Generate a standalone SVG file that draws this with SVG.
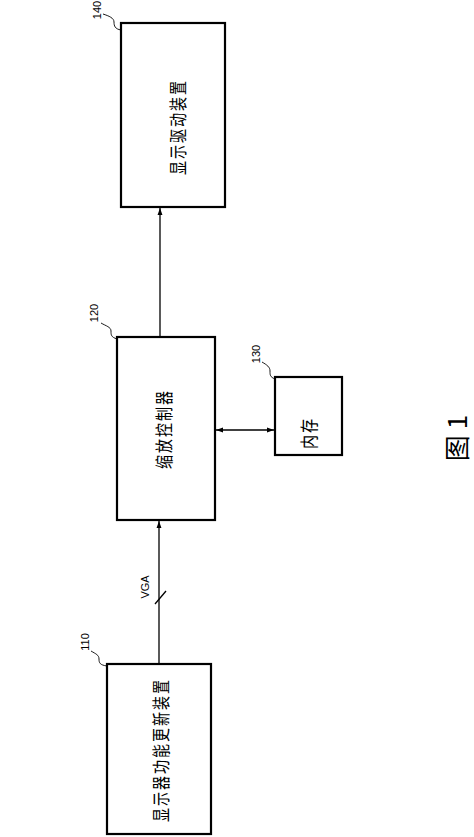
<svg xmlns="http://www.w3.org/2000/svg" width="474" height="837" viewBox="0 0 474 837">
<defs>
<style>
.box{fill:#fff;stroke:#000;stroke-width:2.2}
.cn{font-family:"Noto Sans CJK SC","Noto Sans CJK JP",sans-serif;font-size:14px;fill:#000}
.lbl{font-family:"Liberation Sans",Arial,sans-serif;font-size:11px;fill:#000}
.ln{stroke:#000;stroke-width:1.3;fill:none}
.ld{stroke:#000;stroke-width:0.9;fill:none}
</style>
<marker id="ah" viewBox="0 0 10 10" refX="10" refY="5" markerWidth="7" markerHeight="7" orient="auto-start-reverse" markerUnits="userSpaceOnUse">
<path d="M0,1.5 L10,5 L0,8.5 Z" fill="#000"/>
</marker>
</defs>
<rect width="474" height="837" fill="#fff"/>
<g id="connectors">
<line class="ln" x1="159" y1="664" x2="159" y2="521" marker-end="url(#ah)"/>
<line class="ln" x1="160" y1="337" x2="160" y2="208" marker-end="url(#ah)"/>
<line class="ln" x1="216" y1="430" x2="274" y2="430" marker-start="url(#ah)" marker-end="url(#ah)"/>
<line class="ln" x1="155" y1="604" x2="166" y2="591"/>
<text class="lbl" transform="translate(145,587) rotate(-90)" text-anchor="middle" dominant-baseline="central">VGA</text>
</g>
<g id="n110">
<rect class="box" x="107" y="664" width="104" height="170"/>
<text class="cn" transform="translate(160,750) rotate(-90) scale(1,1.3)" text-anchor="middle" dominant-baseline="central" letter-spacing="2">显示器功能更新装置</text>
<text class="lbl" transform="translate(85,642) rotate(-90)" text-anchor="middle" dominant-baseline="central">110</text>
<path class="ld" d="M91,651 C96,654 99,655 99,659 C99,663 100,665 107,666"/>
</g>
<g id="n120">
<rect class="box" x="117" y="337" width="98" height="183"/>
<text class="cn" transform="translate(163,429) rotate(-90) scale(1,1.3)" text-anchor="middle" dominant-baseline="central" letter-spacing="2">缩放控制器</text>
<text class="lbl" transform="translate(94,313) rotate(-90)" text-anchor="middle" dominant-baseline="central">120</text>
<path class="ld" d="M101,323 C106,326 111,327 111,331 C111,335 111,337 117,339"/>
</g>
<g id="n130">
<rect class="box" x="275" y="377" width="67" height="78"/>
<text class="cn" transform="translate(308,433) rotate(-90) scale(1,1.3)" text-anchor="middle" dominant-baseline="central" letter-spacing="2">内存</text>
<text class="lbl" transform="translate(256,354) rotate(-90)" text-anchor="middle" dominant-baseline="central">130</text>
<path class="ld" d="M262,362 C267,365 270,367 270,371 C270,375 270,377 275,379"/>
</g>
<g id="n140">
<rect class="box" x="121" y="23" width="104" height="184"/>
<text class="cn" transform="translate(177,127) rotate(-90) scale(1,1.3)" text-anchor="middle" dominant-baseline="central" letter-spacing="2">显示驱动装置</text>
<text class="lbl" transform="translate(97,10) rotate(-90)" text-anchor="middle" dominant-baseline="central">140</text>
<path class="ld" d="M103,14 C109,16 114,18 114,22 C114,26 115,29 121,30"/>
</g>
<g id="caption">
<text transform="translate(455,438) rotate(-90)" text-anchor="middle" dominant-baseline="central" font-family="Noto Sans CJK SC,sans-serif" font-size="26" fill="#000">图 1</text>
</g>
</svg>
